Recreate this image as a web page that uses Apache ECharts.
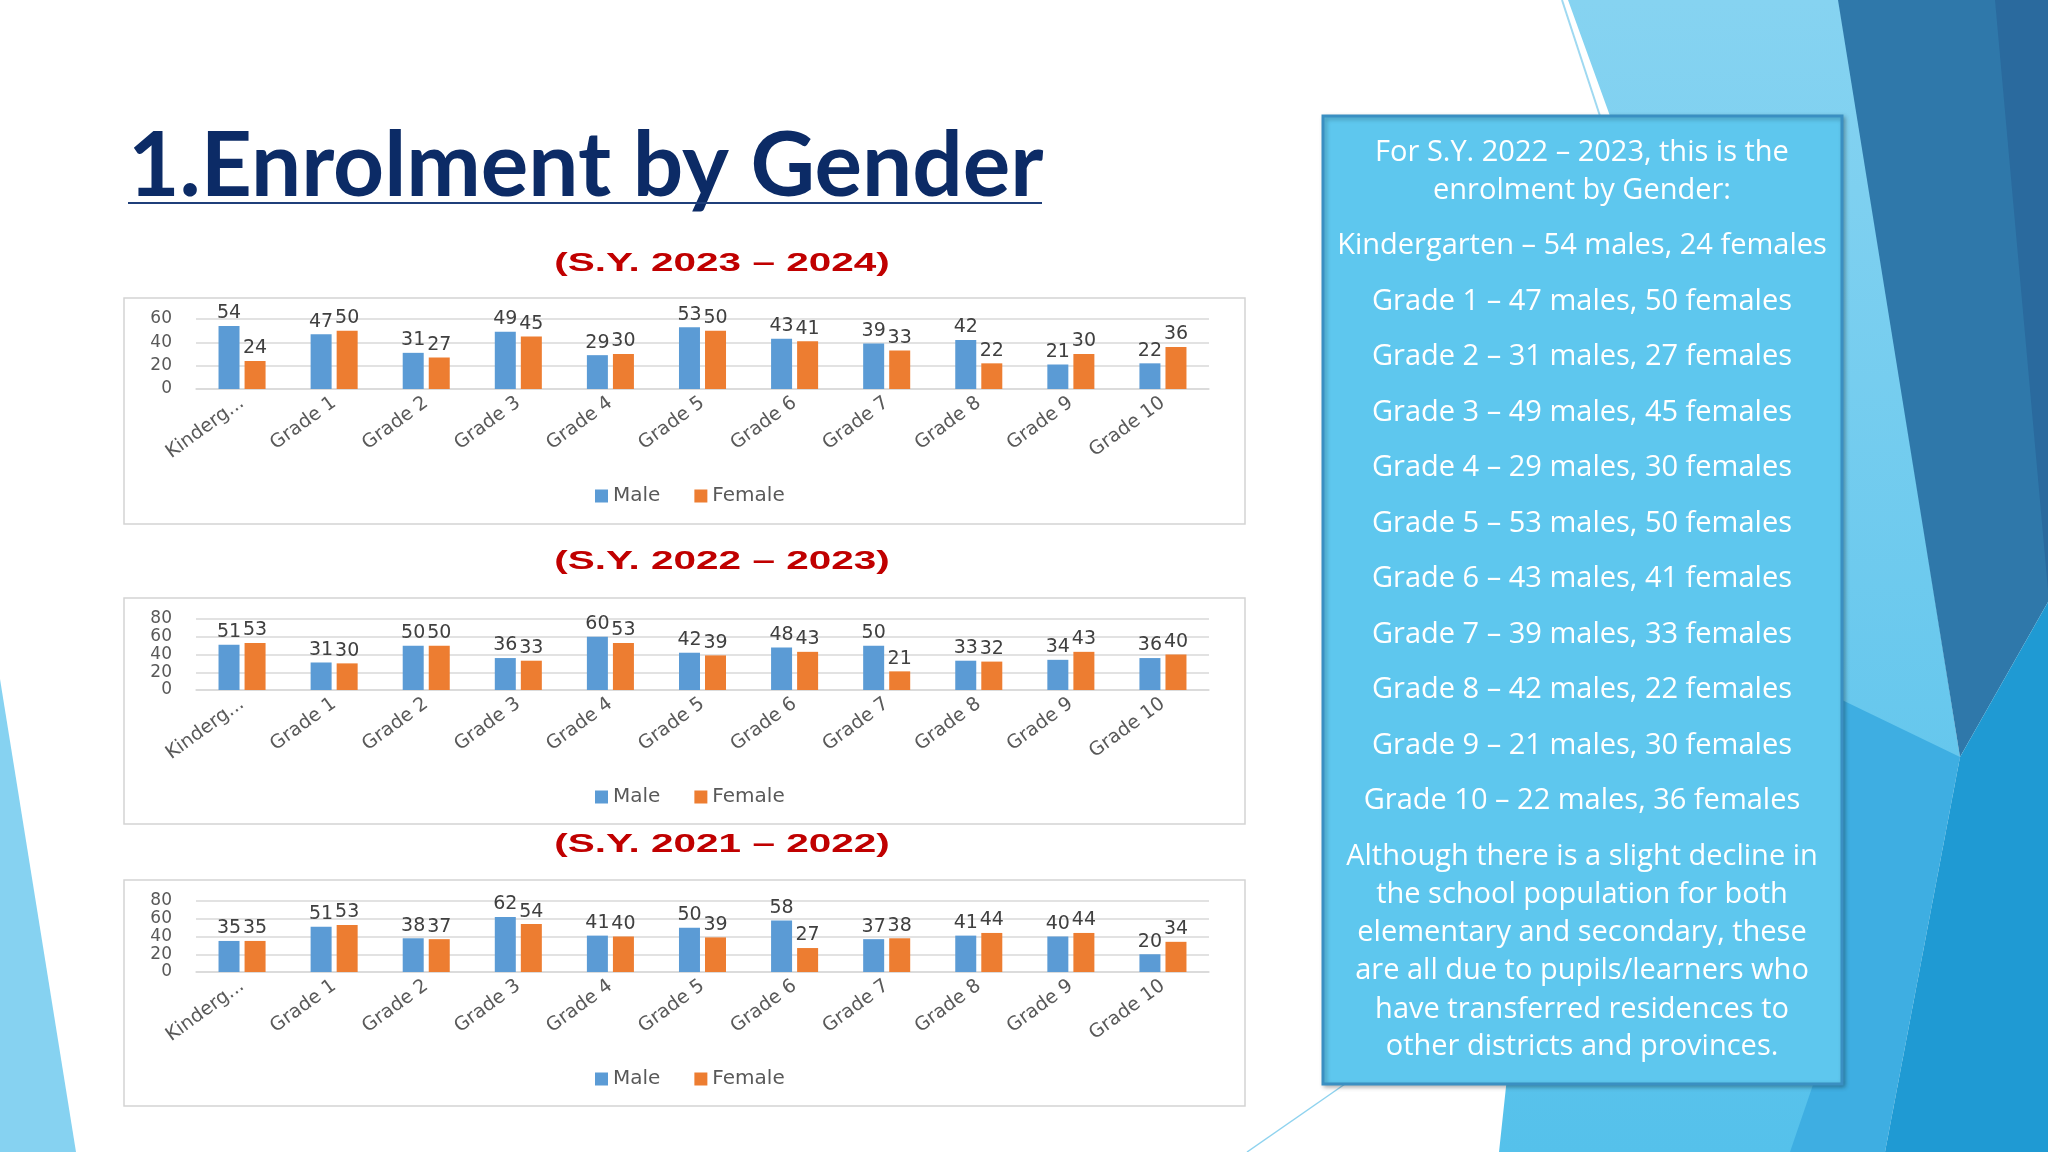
<!DOCTYPE html>
<html>
<head>
<meta charset="utf-8">
<script src="https://cdn.jsdelivr.net/npm/echarts@6/dist/echarts.min.js"></script>
<style>
html,body{margin:0;padding:0;background:#fff;}
#main{width:2048px;height:1152px;}
</style>
</head>
<body>
<div id="main"></div>
<script>
// ---------- DATA ----------
const categories = ['Kindergarten','Grade 1','Grade 2','Grade 3','Grade 4','Grade 5','Grade 6','Grade 7','Grade 8','Grade 9','Grade 10'];
const seriesNames = ['Male','Female'];
const male2324   = [54,47,31,49,29,53,43,39,42,21,22];
const female2324 = [24,50,27,45,30,50,41,33,22,30,36];
const male2223   = [51,31,50,36,60,42,48,50,33,34,36];
const female2223 = [53,30,50,33,53,39,43,21,32,43,40];
const male2122   = [35,51,38,62,41,50,58,37,41,40,20];
const female2122 = [35,53,37,54,40,39,27,38,44,44,34];
const yMaxes = [60,80,80];
const yInterval = 20;
const subtitles = ['(S.Y. 2023 – 2024)','(S.Y. 2022 – 2023)','(S.Y. 2021 – 2022)'];
const titleText = '1.Enrolment by Gender';
const boxLines = [
  'For S.Y. 2022 – 2023, this is the',
  'enrolment by Gender:',
  'Kindergarten – 54 males, 24 females',
  'Grade 1 – 47 males, 50 females',
  'Grade 2 – 31 males, 27 females',
  'Grade 3 – 49 males, 45 females',
  'Grade 4 – 29 males, 30 females',
  'Grade 5 – 53 males, 50 females',
  'Grade 6 – 43 males, 41 females',
  'Grade 7 – 39 males, 33 females',
  'Grade 8 – 42 males, 22 females',
  'Grade 9 – 21 males, 30 females',
  'Grade 10 – 22 males, 36 females',
  'Although there is a slight decline in',
  'the school population for both',
  'elementary and secondary, these',
  'are all due to pupils/learners who',
  'have transferred residences to',
  'other districts and provinces.'
];
const panelData = [
  {male: male2324, female: female2324},
  {male: male2223, female: female2223},
  {male: male2122, female: female2122}
];

// ---------- LAYOUT ----------
const panels = [
  {boxTop:298, gridTop:319, gridH:70, subY:264, legendTop:481},
  {boxTop:598, gridTop:619, gridH:71, subY:562, legendTop:782},
  {boxTop:880, gridTop:901, gridH:71, subY:845, legendTop:1064}
];
const boxLineY = [153,191,246,302,357,413,468,524,579,635,690,746,801,857,895,933,971,1010,1047];
const MALE_C = '#5b9bd5', FEMALE_C = '#ed7d31';
const chartFont = 'DejaVu Sans';

const grids = [], xAxes = [], yAxes = [], series = [], legends = [], graphics = [];

// background shapes
graphics.push(
  {type:'polygon', z:-20, shape:{points:[[0,679],[0,1152],[76,1152]]}, style:{fill:'#86d2f1'}},
  {type:'polygon', z:-20, shape:{points:[[1568,0],[1840,0],[1960,757],[1842,1152],[1499,1152],[1610,116]]},
    style:{fill:new echarts.graphic.LinearGradient(0,0,0,1,[{offset:0,color:'#86d3f1'},{offset:1,color:'#55c1eb'}])}},
  {type:'polygon', z:-19, shape:{points:[[1842,700],[1960,757],[1885,1152],[1790,1152],[1842,1000]]}, style:{fill:'#3eaee2'}},
  {type:'polygon', z:-19, shape:{points:[[1838,0],[2048,0],[2048,602],[1960,757]]}, style:{fill:'#2f78aa'}},
  {type:'polygon', z:-18, shape:{points:[[1995,0],[2048,0],[2048,590]]}, style:{fill:'#2a6a9e'}},
  {type:'polygon', z:-19, shape:{points:[[2048,602],[2048,1152],[1885,1152],[1960,757]]}, style:{fill:'#1f9ad3'}},
  {type:'polyline', z:-17, shape:{points:[[1562,0],[1600,116]]}, style:{stroke:'#9fd9f1', lineWidth:2, fill:null}},
  {type:'polyline', z:-17, shape:{points:[[1247,1152],[1345,1084]]}, style:{stroke:'#8fd3ef', lineWidth:1.5, fill:null}}
);

// title
graphics.push(
  {type:'text', z:10, x:128, y:167, style:{text:titleText, fill:'#0c2b66', font:'bold 89px Lato', textAlign:'left', textVerticalAlign:'middle'}},
  {type:'line', z:10, shape:{x1:128, y1:203, x2:1042, y2:203}, style:{stroke:'#1f3f7a', lineWidth:2}}
);

// text box
graphics.push({type:'rect', z:5, shape:{x:1323, y:116, width:519, height:968},
  style:{fill:'#5ec7ee', stroke:'#3a8fc2', lineWidth:3, shadowBlur:4, shadowColor:'rgba(0,0,0,0.25)', shadowOffsetX:2, shadowOffsetY:2}});
boxLines.forEach((t,i)=>{
  graphics.push({type:'text', z:6, x:1582, y:boxLineY[i], style:{text:t, fill:'#ffffff', font:'29px "Open Sans"', textAlign:'center', textVerticalAlign:'middle'}});
});

panels.forEach((p,i)=>{
  // chart box
  graphics.push({type:'rect', z:-5, shape:{x:124, y:p.boxTop, width:1121, height:226}, style:{fill:'#ffffff', stroke:'#d4d4d4', lineWidth:1.5}});
  // subtitle
  graphics.push({type:'text', z:10, x:722, y:p.subY, scaleX:1.62, scaleY:1,
    style:{text:subtitles[i], fill:'#c00000', font:'bold 25px "Liberation Sans"', textAlign:'center', textVerticalAlign:'middle'}});

  grids.push({left:196, width:1013, top:p.gridTop, height:p.gridH, containLabel:false});
  xAxes.push({type:'category', gridIndex:i, data:categories,
    axisLine:{show:true, lineStyle:{color:'#d9d9d9', width:1.5}}, axisTick:{show:false},
    axisLabel:{interval:0, rotate:36, margin:12, color:'#595959', fontSize:19, fontFamily:chartFont,
      formatter:v=> v.length>8 ? v.slice(0,7)+'...' : v}});
  yAxes.push({type:'value', gridIndex:i, min:0, max:yMaxes[i], interval:yInterval,
    axisLine:{show:false}, axisTick:{show:false},
    axisLabel:{margin:24, color:'#595959', fontSize:17, fontFamily:chartFont},
    splitLine:{lineStyle:{color:'#d9d9d9', width:1.5}}});
  const vals = [panelData[i].male, panelData[i].female];
  seriesNames.forEach((nm,k)=>{
    series.push({type:'bar', name:nm, xAxisIndex:i, yAxisIndex:i, data:vals[k],
      barWidth:21, barGap:'24%', itemStyle:{color:k===0?MALE_C:FEMALE_C},
      label:{show:true, position:'top', distance:3, color:'#404040', fontSize:19, fontFamily:chartFont},
      animation:false});
  });
  legends.push({data:seriesNames, left:590, top:p.legendTop, icon:'rect', itemWidth:13, itemHeight:13, itemGap:34,
    textStyle:{color:'#595959', fontSize:20, fontFamily:chartFont}, selectedMode:false});
});

const chart = echarts.init(document.getElementById('main'), null, {renderer:'canvas'});
chart.setOption({
  backgroundColor:'#ffffff',
  animation:false,
  grid:grids, xAxis:xAxes, yAxis:yAxes, series:series, legend:legends,
  graphic:{elements:graphics}
});
</script>
</body>
</html>
